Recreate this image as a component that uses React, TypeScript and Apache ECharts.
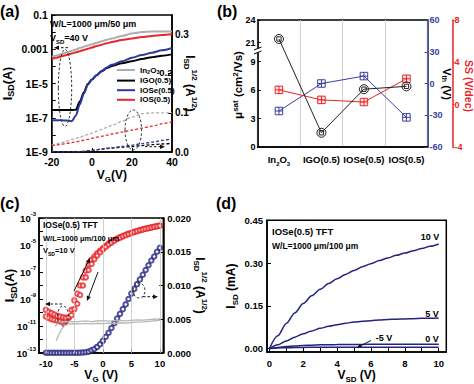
import React, { useEffect, useRef } from "react";
import * as echarts from "echarts";

const FONT = '"Liberation Sans", Arial, Helvetica, sans-serif';

// ---------------- Panel (a): transfer curves, VSD = 40 V ----------------
const VG_A = [-20, -17.5, -15, -12.5, -10, -8, -6, -4, -2, 0, 2.5, 5, 7.5, 10, 15, 20, 25, 30, 35, 40];
// log10(ISD) read from the left (log) axis
const A_LOG_IN2O3 = [-3.43, -3.36, -3.28, -3.19, -3.09, -3.01, -2.93, -2.86, -2.78, -2.71, -2.62, -2.53, -2.45, -2.37, -2.22, -2.08, -1.99, -1.97, -1.97, -1.97];
const A_LOG_IGO = [-6.55, -6.55, -6.55, -6.55, -6.55, -6.53, -6.05, -5.52, -5.03, -4.76, -4.5, -4.28, -4.1, -3.98, -3.82, -3.7, -3.57, -3.46, -3.38, -3.3];
const A_LOG_IOSE = [-7.15, -7.15, -7.15, -7.16, -7.2, -6.88, -6.22, -5.6, -5.08, -4.78, -4.5, -4.25, -4.06, -3.91, -3.7, -3.5, -3.34, -3.2, -3.06, -2.93];
const A_LOG_IOS = [-3.57, -3.49, -3.41, -3.33, -3.25, -3.18, -3.11, -3.04, -2.97, -2.9, -2.81, -2.73, -2.65, -2.58, -2.46, -2.37, -2.29, -2.22, -2.17, -2.13];
// ISD^1/2
const A_SQ_IN2O3 = [0.018, 0.021, 0.024, 0.028, 0.032, 0.035, 0.038, 0.041, 0.045, 0.048, 0.053, 0.058, 0.063, 0.068, 0.078, 0.089, 0.098, 0.1, 0.1, 0.1];
const A_SQ_IGO = [0.0005, 0.0005, 0.0005, 0.0005, 0.0005, 0.0006, 0.0009, 0.0017, 0.003, 0.0042, 0.0056, 0.0073, 0.0089, 0.0102, 0.0123, 0.0141, 0.0165, 0.0186, 0.0204, 0.0224];
const A_SQ_IOSE = [0.0003, 0.0003, 0.0003, 0.0003, 0.0003, 0.0004, 0.0008, 0.0016, 0.0029, 0.004, 0.0055, 0.0075, 0.0093, 0.011, 0.014, 0.0178, 0.0214, 0.025, 0.0295, 0.034];
const A_SQ_IOS = [0.016, 0.018, 0.02, 0.022, 0.024, 0.026, 0.028, 0.03, 0.032, 0.035, 0.038, 0.04, 0.043, 0.046, 0.051, 0.056, 0.061, 0.066, 0.072, 0.077];
const A_LEFT_LABELS: Record<string, string> = { "-1": "0.1", "-3": "0.001", "-5": "1E-5", "-7": "1E-7", "-9": "1E-9" };
const A_RIGHT_TICKS = [0, 0.1, 0.2, 0.3];

// ---------------- Panel (b): parameters ----------------
const B_CATS = ["In2O3", "IGO(0.5)", "IOSe(0.5)", "IOS(0.5)"];
const B_MU = [21.5, 1.5, 6.1, 6.4];
const B_VTH = [-26, 0, 7, -32];
const B_SS = [1.4, 0.45, 0.25, 2.45];
const B_MU_TICKS = [0, 3, 6, 9, 21, 24];
const B_VTH_TICKS = [-60, -30, 0, 30, 60];
const B_SS_TICKS = [-4, 0, 4, 8];

// ---------------- Panel (c): IOSe(0.5) transfer, VSD = 10 V ----------------
const VG_C = [-10, -9.5, -9, -8.5, -8, -7.5, -7, -6.5, -6, -5.5, -5, -4.5, -4, -3.5, -3, -2.5, -2, -1.5, -1, -0.5, 0,
  0.5, 1, 1.5, 2, 2.5, 3, 3.5, 4, 4.5, 5, 5.5, 6, 6.5, 7, 7.5, 8, 8.5, 9, 9.5, 10];
const C_LOG_FWD = [-10.3, -10.4, -10.5, -10.55, -10.6, -10.65, -10.7, -10.65, -10.4, -9.8, -9.1, -8.6, -8.0, -7.4, -6.9, -6.45, -6.1, -5.85, -5.62, -5.42, -5.24,
  -5.06, -4.9, -4.76, -4.63, -4.52, -4.42, -4.33, -4.24, -4.16, -4.09, -4.02, -3.96, -3.9, -3.84, -3.79, -3.74, -3.69, -3.65, -3.6, -3.56];
const C_LOG_BWD = [-9.8, -9.95, -10.05, -10.15, -10.25, -10.3, -10.35, -10.4, -10.35, -10.2, -9.75, -9.35, -8.7, -8.0, -7.4, -6.85, -6.4, -6.05, -5.78, -5.54, -5.33,
  -5.14, -4.97, -4.82, -4.68, -4.56, -4.46, -4.36, -4.27, -4.19, -4.11, -4.04, -3.97, -3.91, -3.85, -3.8, -3.75, -3.7, -3.65, -3.61, -3.57];
const C_SQRT = [0.00003, 0.00003, 0.00003, 0.00003, 0.00003, 0.00003, 0.00003, 0.00003, 0.00003, 0.00003, 0.00003, 0.00003, 0.00005, 0.00008, 0.00012, 0.0002, 0.0004, 0.0006, 0.0009, 0.0013, 0.0018,
  0.0024, 0.003, 0.0037, 0.0044, 0.0051, 0.0058, 0.0065, 0.0072, 0.008, 0.0088, 0.0095, 0.0102, 0.0109, 0.0116, 0.0123, 0.013, 0.0137, 0.0143, 0.015, 0.0156];
const C_LEAK1_V = [-8.4, -8, -7.5, -7, -6, -5, -4, -3, -2, -1, 0, 1, 2, 3, 4, 5, 6, 7, 8, 9, 10];
const C_LEAK1_LOG = [-11.05, -10.85, -10.72, -10.68, -10.65, -10.7, -10.66, -10.62, -10.67, -10.63, -10.6, -10.64, -10.6, -10.58, -10.62, -10.58, -10.55, -10.57, -10.53, -10.5, -10.48];
const C_LEAK2_V = [-8.2, -7.8, -7.3, -6.8, -6, -5, -4, -3, -2, -1, 0, 1, 2, 3, 4, 5, 6, 7, 8, 9, 10];
const C_LEAK2_LOG = [-12.1, -11.7, -11.3, -11.0, -10.85, -10.82, -10.85, -10.8, -10.84, -10.8, -10.82, -10.78, -10.8, -10.76, -10.78, -10.74, -10.72, -10.7, -10.66, -10.62, -10.58];
const C_X_TICKS = [-10, -5, 0, 5, 10];
const C_GRID_EXP = [-5, -7, -9, -11];

// ---------------- Panel (d): output curves ----------------
const VSD_D = [0, 0.5, 1, 1.5, 2, 2.5, 3, 3.5, 4, 4.5, 5, 5.5, 6, 6.5, 7, 7.5, 8, 8.5, 9, 9.5, 10];
const D_ID_10 = [0, 0.045, 0.088, 0.125, 0.158, 0.185, 0.208, 0.228, 0.245, 0.26, 0.274, 0.287, 0.298, 0.309, 0.318, 0.327, 0.335, 0.343, 0.351, 0.359, 0.367];
const D_ID_5 = [0, 0.013, 0.027, 0.04, 0.052, 0.062, 0.071, 0.078, 0.084, 0.089, 0.093, 0.096, 0.098, 0.1, 0.102, 0.103, 0.104, 0.105, 0.106, 0.106, 0.107];
const D_ID_0 = [0, 0.004, 0.007, 0.009, 0.011, 0.012, 0.013, 0.0135, 0.014, 0.0142, 0.0145, 0.0147, 0.0148, 0.0149, 0.015, 0.015, 0.015, 0.015, 0.015, 0.015, 0.015];
const D_ID_M5 = [0, 0.002, 0.003, 0.0035, 0.004, 0.0045, 0.005, 0.005, 0.005, 0.005, 0.005, 0.005, 0.005, 0.005, 0.005, 0.005, 0.005, 0.005, 0.005, 0.005, 0.005];
const D_X_TICKS = [0, 2, 4, 6, 8, 10];
const D_X_MINOR = [0, 1, 2, 3, 4, 5, 6, 7, 8, 9, 10];
const D_Y_TICKS = [0, 0.15, 0.3, 0.45];

// ---------------- colours ----------------
const GRAY = "#adadad";
const BLACK = "#000000";
const BLUE = "#2b3a9c";
const RED = "#e8262b";
const NAVY = "#24237f";
const BBLUE = "#3a3f9e";
const BRED = "#ec2227";

const rich = (size: number, color = "#000", lh = size + 4) => ({
  b: { fontSize: size, fontWeight: "bold", fontFamily: FONT, color, lineHeight: lh },
  s: { fontSize: Math.round(size * 0.68), fontWeight: "bold", fontFamily: FONT, color, lineHeight: Math.round(size * 0.55), verticalAlign: "bottom" },
  p: { fontSize: Math.round(size * 0.68), fontWeight: "bold", fontFamily: FONT, color, lineHeight: Math.round(size * 0.55), verticalAlign: "top" },
});

const lbl = (size = 11, color = "#000") => ({ color, fontWeight: "bold", fontFamily: FONT, fontSize: size });
const blackLine = { show: true, onZero: false, lineStyle: { color: "#000", width: 1.5 } };
const inTick = { show: true, inside: true, length: 4, lineStyle: { color: "#000", width: 1 } };

const muToAxis = (v: number) => (v <= 9 ? v : 11 + (v - 21) * 0.8);

function arrow(x1: number, y1: number, x2: number, y2: number, dashed: boolean, head = 5) {
  const a = Math.atan2(y2 - y1, x2 - x1);
  const bx = x2 - head * Math.cos(a);
  const by = y2 - head * Math.sin(a);
  const w = head * 0.45;
  return [
    { type: "line", z: 100, shape: { x1, y1, x2: bx, y2: by }, style: { stroke: "#111", lineWidth: 1, lineDash: dashed ? [2.5, 2] : null } },
    { type: "polygon", z: 100, shape: { points: [[x2, y2], [bx - w * Math.sin(a), by + w * Math.cos(a)], [bx + w * Math.sin(a), by - w * Math.cos(a)]] }, style: { fill: "#111" } },
  ];
}
const ellipse = (cx: number, cy: number, rx: number, ry: number) => ({
  type: "ellipse", z: 100, shape: { cx, cy, rx, ry }, style: { fill: "none", stroke: "#333", lineWidth: 1, lineDash: [2.5, 2] },
});
const txt = (x: number, y: number, text: string, size: number, extra: any = {}, el: any = {}) => ({
  type: "text", z: 100, x, y, ...el,
  style: { text, fontSize: size, fontWeight: "bold", fontFamily: FONT, fill: "#000", align: "left", verticalAlign: "middle", ...extra },
});

const SYM_SQPLUS = "path://M0,0L10,0L10,10L0,10Z M5,0L5,10 M0,5L10,5";
const SYM_CIRCSQ = "path://M10,5A5,5,0,1,1,0,5A5,5,0,1,1,10,5Z M2.6,2.6L7.4,2.6L7.4,7.4L2.6,7.4Z";

function baseGraphic(): any[] {
  return [
    txt(0, 11, "(a)", 16), txt(217, 11, "(b)", 16), txt(0, 203, "(c)", 16), txt(216, 203, "(d)", 16),
    // (a)
    txt(50, 24, "W/L=1000 μm/50 μm", 9),
    txt(50, 38, "{b|V}{s|SD}{b|=40 V}", 9, { rich: rich(9) }),
    txt(172.5, 72, "0.2", 9.5, { align: "right" }),
    ellipse(65, 88, 6.7, 38.5), ellipse(133.3, 130, 8.3, 20),
    ...arrow(68, 47.7, 54, 47.7, true), ...arrow(145, 146.7, 165, 146.7, true),
    // (b) axis titles
    txt(237.5, 85, "{b|μ}{p|sat}{b| (cm}{p|2}{b|/Vs)}", 11.5, { align: "center", rich: rich(11.5, "#000", 12) }, { rotation: Math.PI / 2 }),
    txt(446.5, 84, "{b|V}{s|th}{b| (V)}", 11, { align: "center", rich: rich(11, BBLUE, 12) }, { rotation: -Math.PI / 2 }),
    txt(468.5, 86, "SS (V/dec)", 10.5, { align: "center", fill: BRED }, { rotation: -Math.PI / 2 }),
    // (b) axis break
    { type: "rect", z: 100, shape: { x: 254, y: 48.5, width: 8, height: 4 }, style: { fill: "#fff" } },
    { type: "line", z: 101, shape: { x1: 254, y1: 50, x2: 261.5, y2: 47 }, style: { stroke: "#000", lineWidth: 1 } },
    { type: "line", z: 101, shape: { x1: 254, y1: 54, x2: 261.5, y2: 51 }, style: { stroke: "#000", lineWidth: 1 } },
    // (c)
    txt(43, 225, "IOSe(0.5) TFT", 8.5),
    txt(43, 238, "W/L=1000 μm/100 μm", 7.5),
    txt(43, 250.5, "{b|V}{s|SD}{b|=10 V}", 7.5, { rich: rich(7.5) }),
    ...arrow(74, 291, 90, 258, false), ...arrow(98, 272, 87, 301, false),
    ellipse(63, 316, 5.5, 10), ellipse(139, 290.5, 6, 7.5),
    ...arrow(62, 304, 45, 304, true), ...arrow(143, 296.7, 158, 296.7, true),
    // (d)
    txt(272, 231, "IOSe(0.5) TFT", 9.5),
    txt(272, 246, "W/L=1000 μm/100 μm", 8.5),
    txt(430, 237, "10 V", 9, { align: "center" }),
    txt(432, 313.5, "5 V", 9, { align: "center" }),
    txt(432, 338.5, "0 V", 9, { align: "center" }),
    txt(384, 337.5, "-5 V", 9, { align: "center" }),
    ...arrow(371, 340.5, 357, 347.5, false, 4.5),
  ];
}

function buildOption(): any {
  const series: any[] = [];
  // ---- (a)
  const aSolid: [string, number[], string][] = [
    ["In2O3", A_LOG_IN2O3, GRAY], ["IGO(0.5)", A_LOG_IGO, BLACK], ["IOSe(0.5)", A_LOG_IOSE, BLUE], ["IOS(0.5)", A_LOG_IOS, RED],
  ];
  aSolid.forEach(([name, arr, color]) => series.push({
    type: "line", name, xAxisIndex: 0, yAxisIndex: 0, symbol: "none", smooth: 0.3, smoothMonotone: "x",
    lineStyle: { color, width: 2 }, itemStyle: { color },
    data: VG_A.map((v, i) => [v, Math.pow(10, arr[i])]),
  }));
  const aDash: [string, number[], string][] = [
    ["In2O3 sqrt", A_SQ_IN2O3, GRAY], ["IGO(0.5) sqrt", A_SQ_IGO, BLACK], ["IOSe(0.5) sqrt", A_SQ_IOSE, BLUE], ["IOS(0.5) sqrt", A_SQ_IOS, RED],
  ];
  aDash.forEach(([name, arr, color]) => series.push({
    type: "line", name, xAxisIndex: 0, yAxisIndex: 1, symbol: "none", smooth: 0.3, smoothMonotone: "x",
    lineStyle: { color, width: 1.3, type: [3, 2] }, itemStyle: { color },
    data: VG_A.map((v, i) => [v, arr[i]]),
  }));
  // ---- (b)
  series.push({
    type: "line", name: "μsat", xAxisIndex: 1, yAxisIndex: 2, symbol: SYM_CIRCSQ, symbolSize: 9, symbolKeepAspect: true,
    lineStyle: { color: "#222", width: 1 }, itemStyle: { color: "rgba(255,255,255,0)", borderColor: "#222", borderWidth: 1 },
    data: B_MU.map(muToAxis), z: 4,
  });
  series.push({
    type: "line", name: "Vth", xAxisIndex: 1, yAxisIndex: 3, symbol: SYM_SQPLUS, symbolSize: 7.5, symbolKeepAspect: true,
    lineStyle: { color: BBLUE, width: 1 }, itemStyle: { color: "rgba(255,255,255,0)", borderColor: BBLUE, borderWidth: 1 },
    data: B_VTH, z: 3,
  });
  series.push({
    type: "line", name: "SS", xAxisIndex: 1, yAxisIndex: 4, symbol: SYM_SQPLUS, symbolSize: 7.5, symbolKeepAspect: true,
    lineStyle: { color: BRED, width: 1 }, itemStyle: { color: "rgba(255,200,200,0.35)", borderColor: BRED, borderWidth: 1 },
    data: B_SS, z: 3,
  });
  // ---- (c)
  series.push({
    type: "line", name: "leak1", xAxisIndex: 2, yAxisIndex: 5, symbol: "none",
    lineStyle: { color: "#b8b8b8", width: 1.3 },
    data: C_LEAK1_V.map((v, i) => [v, Math.pow(10, C_LEAK1_LOG[i])]),
    markLine: {
      silent: true, symbol: ["none", "none"], label: { show: false }, animation: false,
      lineStyle: { color: "#c4c4c4", width: 0.8, type: "solid" },
      data: [...C_GRID_EXP.map((e) => ({ yAxis: Math.pow(10, e) })), ...C_X_TICKS.map((x) => ({ xAxis: x }))],
    },
  });
  series.push({
    type: "line", name: "leak2", xAxisIndex: 2, yAxisIndex: 5, symbol: "none",
    lineStyle: { color: "#b8b8b8", width: 1.3 },
    data: C_LEAK2_V.map((v, i) => [v, Math.pow(10, C_LEAK2_LOG[i])]),
  });
  series.push({
    type: "scatter", name: "sqrt", xAxisIndex: 2, yAxisIndex: 6, symbol: "emptyCircle", symbolSize: 4.5,
    itemStyle: { color: NAVY, borderColor: NAVY, borderWidth: 1.3 },
    data: VG_C.map((v, i) => [v, C_SQRT[i]]),
  });
  series.push({
    type: "scatter", name: "fwd", xAxisIndex: 2, yAxisIndex: 5, symbol: "emptyCircle", symbolSize: 4.5,
    itemStyle: { color: RED, borderColor: RED, borderWidth: 1.3 },
    data: VG_C.map((v, i) => [v, Math.pow(10, C_LOG_FWD[i])]),
  });
  series.push({
    type: "scatter", name: "bwd", xAxisIndex: 2, yAxisIndex: 5, symbol: "emptyCircle", symbolSize: 4.5,
    itemStyle: { color: RED, borderColor: RED, borderWidth: 1.3 },
    data: VG_C.map((v, i) => [v, Math.pow(10, C_LOG_BWD[i])]),
  });
  // ---- (d)
  const dCurves: [string, number[]][] = [["10 V", D_ID_10], ["5 V", D_ID_5], ["0 V", D_ID_0], ["-5 V", D_ID_M5]];
  dCurves.forEach(([name, arr]) => series.push({
    type: "line", name, xAxisIndex: 3, yAxisIndex: 7, symbol: "none", smooth: 0.3, smoothMonotone: "x",
    lineStyle: { color: NAVY, width: 1.5 }, data: VSD_D.map((v, i) => [v, arr[i]]),
  }));

  return {
    animation: false,
    backgroundColor: "#fff",
    textStyle: { fontFamily: FONT },
    legend: {
      data: ["In2O3", "IGO(0.5)", "IOSe(0.5)", "IOS(0.5)"],
      orient: "vertical", left: 116, top: 66, padding: 0, itemWidth: 18, itemHeight: 8, itemGap: 1.6,
      selectedMode: false,
      itemStyle: { opacity: 0, borderWidth: 0 },
      formatter: (n: string) => (n === "In2O3" ? "{n|In}{s|2}{n|O}{s|3}" : "{n|" + n + "}"),
      textStyle: {
        fontSize: 8, fontWeight: "bold", fontFamily: FONT, color: "#000",
        rich: {
          n: { fontSize: 8, fontWeight: "bold", fontFamily: FONT, lineHeight: 10 },
          s: { fontSize: 5.5, fontWeight: "bold", fontFamily: FONT, lineHeight: 5, verticalAlign: "bottom" },
        },
      },
    },
    grid: [
      { left: 47, top: 15, width: 125, height: 137, show: true, borderColor: "#000", borderWidth: 1.5, backgroundColor: "transparent" },
      { left: 257.7, top: 20, width: 170, height: 127, show: true, borderColor: "#000", borderWidth: 1.5, backgroundColor: "transparent" },
      { left: 39, top: 218, width: 124.3, height: 138, show: true, borderColor: "#000", borderWidth: 1.5, backgroundColor: "transparent" },
      { left: 267, top: 220.3, width: 179.3, height: 133.4, show: true, borderColor: "#000", borderWidth: 1.5, backgroundColor: "transparent" },
    ],
    xAxis: [
      {
        gridIndex: 0, type: "value", min: -20, max: 40, interval: 20,
        axisLine: blackLine, axisTick: inTick, splitLine: { show: false },
        axisLabel: { ...lbl(10.5), margin: 4 },
        name: "{b|V}{s|G}{b|(V)}", nameLocation: "middle", nameGap: 15, nameMoveOverlap: false,
        nameTextStyle: { rich: rich(12) },
      },
      {
        gridIndex: 1, type: "category", data: B_CATS, boundaryGap: true,
        axisLine: blackLine, axisTick: { show: false },
        splitLine: { show: true, lineStyle: { color: "#cfcfcf", width: 1 } },
        axisLabel: {
          ...lbl(9.5), margin: 6, interval: 0,
          formatter: (c: string) => (c === "In2O3" ? "{b|In}{s|2}{b|O}{s|3}" : "{b|" + c + "}"),
          rich: rich(9.5),
        },
      },
      {
        gridIndex: 2, type: "value", min: -11.2, max: 10.6,
        axisLine: blackLine, axisTick: { ...inTick, customValues: C_X_TICKS }, splitLine: { show: false },
        axisLabel: { ...lbl(9.5), margin: 5, customValues: C_X_TICKS },
        name: "{b|V}{s|G}{b| (V)}", nameLocation: "middle", nameGap: 14, nameMoveOverlap: false,
        nameTextStyle: { rich: rich(12) },
      },
      {
        gridIndex: 3, type: "value", min: -0.14, max: 10.45,
        axisLine: blackLine, axisTick: { ...inTick, customValues: D_X_MINOR }, splitLine: { show: false },
        axisLabel: { ...lbl(9.5), margin: 6, customValues: D_X_TICKS },
        name: "{b|V}{s|SD}{b| (V)}", nameLocation: "middle", nameGap: 15, nameMoveOverlap: false,
        nameTextStyle: { rich: rich(12) },
      },
    ],
    yAxis: [
      // (a) left log
      {
        gridIndex: 0, type: "log", logBase: 10, min: 1e-9, max: 0.1, splitNumber: 8, position: "left",
        axisLine: blackLine, axisTick: inTick, splitLine: { show: false },
        axisLabel: {
          ...lbl(10.5), margin: 4,
          formatter: (v: number) => A_LEFT_LABELS[String(Math.round(Math.log10(v)))] || "",
        },
        name: "{b|I}{s|SD}{b|(A)}", nameLocation: "middle", nameRotate: 90, nameGap: 36, nameMoveOverlap: false,
        nameTextStyle: { rich: rich(12.5) },
      },
      // (a) right sqrt
      {
        gridIndex: 0, type: "value", min: 0, max: 0.35, position: "right",
        axisLine: blackLine, axisTick: { ...inTick, customValues: A_RIGHT_TICKS }, splitLine: { show: false },
        axisLabel: {
          ...lbl(10), margin: 3, customValues: A_RIGHT_TICKS,
          formatter: (v: number) => (Math.abs(v - 0.2) < 1e-9 ? "" : v.toFixed(1)),
        },
        name: "{b|I}{s|SD}{p|1/2}{b| (A}{p|1/2}{b|)}", nameLocation: "middle", nameRotate: -90, nameGap: 10, nameMoveOverlap: false,
        nameTextStyle: { rich: rich(12) },
      },
      // (b) left mobility (broken axis) - labels and title drawn as graphic texts
      {
        gridIndex: 1, type: "value", min: 0, max: muToAxis(24), position: "left",
        axisLine: blackLine, axisTick: { ...inTick, length: 3, customValues: B_MU_TICKS.map(muToAxis) }, splitLine: { show: false },
        axisLabel: { show: false },
      },
      // (b) Vth
      {
        gridIndex: 1, type: "value", min: -60, max: 60, interval: 30, position: "right",
        axisLine: { show: true, lineStyle: { color: BBLUE, width: 1.5 } },
        axisTick: { show: true, inside: true, length: 3, lineStyle: { color: BBLUE } }, splitLine: { show: false },
        axisLabel: { show: false },
      },
      // (b) SS
      {
        gridIndex: 1, type: "value", min: -4, max: 8, interval: 4, position: "right", offset: 25,
        axisLine: { show: true, lineStyle: { color: BRED, width: 1.5 } },
        axisTick: { show: true, inside: false, length: 3, lineStyle: { color: BRED } }, splitLine: { show: false },
        axisLabel: { show: false },
      },
      // (c) left log
      {
        gridIndex: 2, type: "log", logBase: 10, min: 1e-13, max: 1e-3, splitNumber: 10, position: "left",
        axisLine: blackLine, axisTick: inTick, splitLine: { show: false },
        axisLabel: {
          margin: 3,
          formatter: (v: number) => {
            const e = Math.round(Math.log10(v));
            return e % 2 !== 0 ? "{b|10}{p|" + e + "}" : "";
          },
          rich: rich(9.5),
        },
        name: "{b|I}{s|SD}{b|(A)}", nameLocation: "middle", nameRotate: 90, nameGap: 21, nameMoveOverlap: false,
        nameTextStyle: { rich: rich(12.5) },
      },
      // (c) right sqrt
      {
        gridIndex: 2, type: "value", min: 0, max: 0.02, interval: 0.005, position: "right",
        axisLine: blackLine, axisTick: inTick, splitLine: { show: false },
        axisLabel: { ...lbl(9.5), margin: 4, formatter: (v: number) => v.toFixed(3) },
        name: "{b|I}{s|SD}{p|1/2}{b| (A}{p|1/2}{b|)}", nameLocation: "middle", nameRotate: -90, nameGap: 29, nameMoveOverlap: false,
        nameTextStyle: { rich: rich(12) },
      },
      // (d)
      {
        gridIndex: 3, type: "value", min: -0.012, max: 0.45,
        axisLine: blackLine, axisTick: { ...inTick, customValues: D_Y_TICKS }, splitLine: { show: false },
        axisLabel: { ...lbl(9.5), margin: 4, customValues: D_Y_TICKS, formatter: (v: number) => v.toFixed(2) },
        name: "{b|I}{s|SD}{b| (mA)}", nameLocation: "middle", nameRotate: 90, nameGap: 28, nameMoveOverlap: false,
        nameTextStyle: { rich: rich(12) },
      },
    ],
    series,
    graphic: baseGraphic(),
  };
}

function pixelY(chart: any, axisIndex: number, value: number, min: number, max: number) {
  let v: any = null;
  try {
    const r = chart.convertToPixel({ yAxisIndex: axisIndex }, value);
    v = Array.isArray(r) ? r[1] : r;
  } catch (e) {
    v = null;
  }
  if (typeof v === "number" && isFinite(v)) return v;
  return 20 + (127 * (max - value)) / (max - min);
}

export default function App() {
  const ref = useRef<HTMLDivElement>(null);
  useEffect(() => {
    if (!ref.current) return;
    const chart = echarts.init(ref.current, null, { renderer: "svg" });
    chart.setOption(buildOption());
    // tick labels of panel (b), positioned through the axes' own scales, drawn on top
    const extra: any[] = [];
    const muMax = muToAxis(24);
    const top = (o: any) => ({ ...o, z: 500, zlevel: 1 });
    B_MU_TICKS.forEach((v) => {
      extra.push(top(txt(255.5, pixelY(chart, 2, muToAxis(v), 0, muMax), String(v), 9, { align: "right", backgroundColor: "#fff" })));
    });
    B_VTH_TICKS.forEach((v) => {
      extra.push(top(txt(429.5, pixelY(chart, 3, v, -60, 60), String(v), 9, { align: "left", fill: BBLUE, backgroundColor: "#fff" })));
    });
    B_SS_TICKS.forEach((v) => {
      extra.push(top(txt(454.5, pixelY(chart, 4, v, -4, 8), String(v), 9, { align: "left", fill: BRED, backgroundColor: "#fff" })));
    });
    chart.setOption({ graphic: [...baseGraphic(), ...extra] });
    return () => chart.dispose();
  }, []);
  return (
    <div
      ref={ref}
      style={{ position: "fixed", left: 0, top: 0, width: 474, height: 384, background: "#fff" }}
    />
  );
}
